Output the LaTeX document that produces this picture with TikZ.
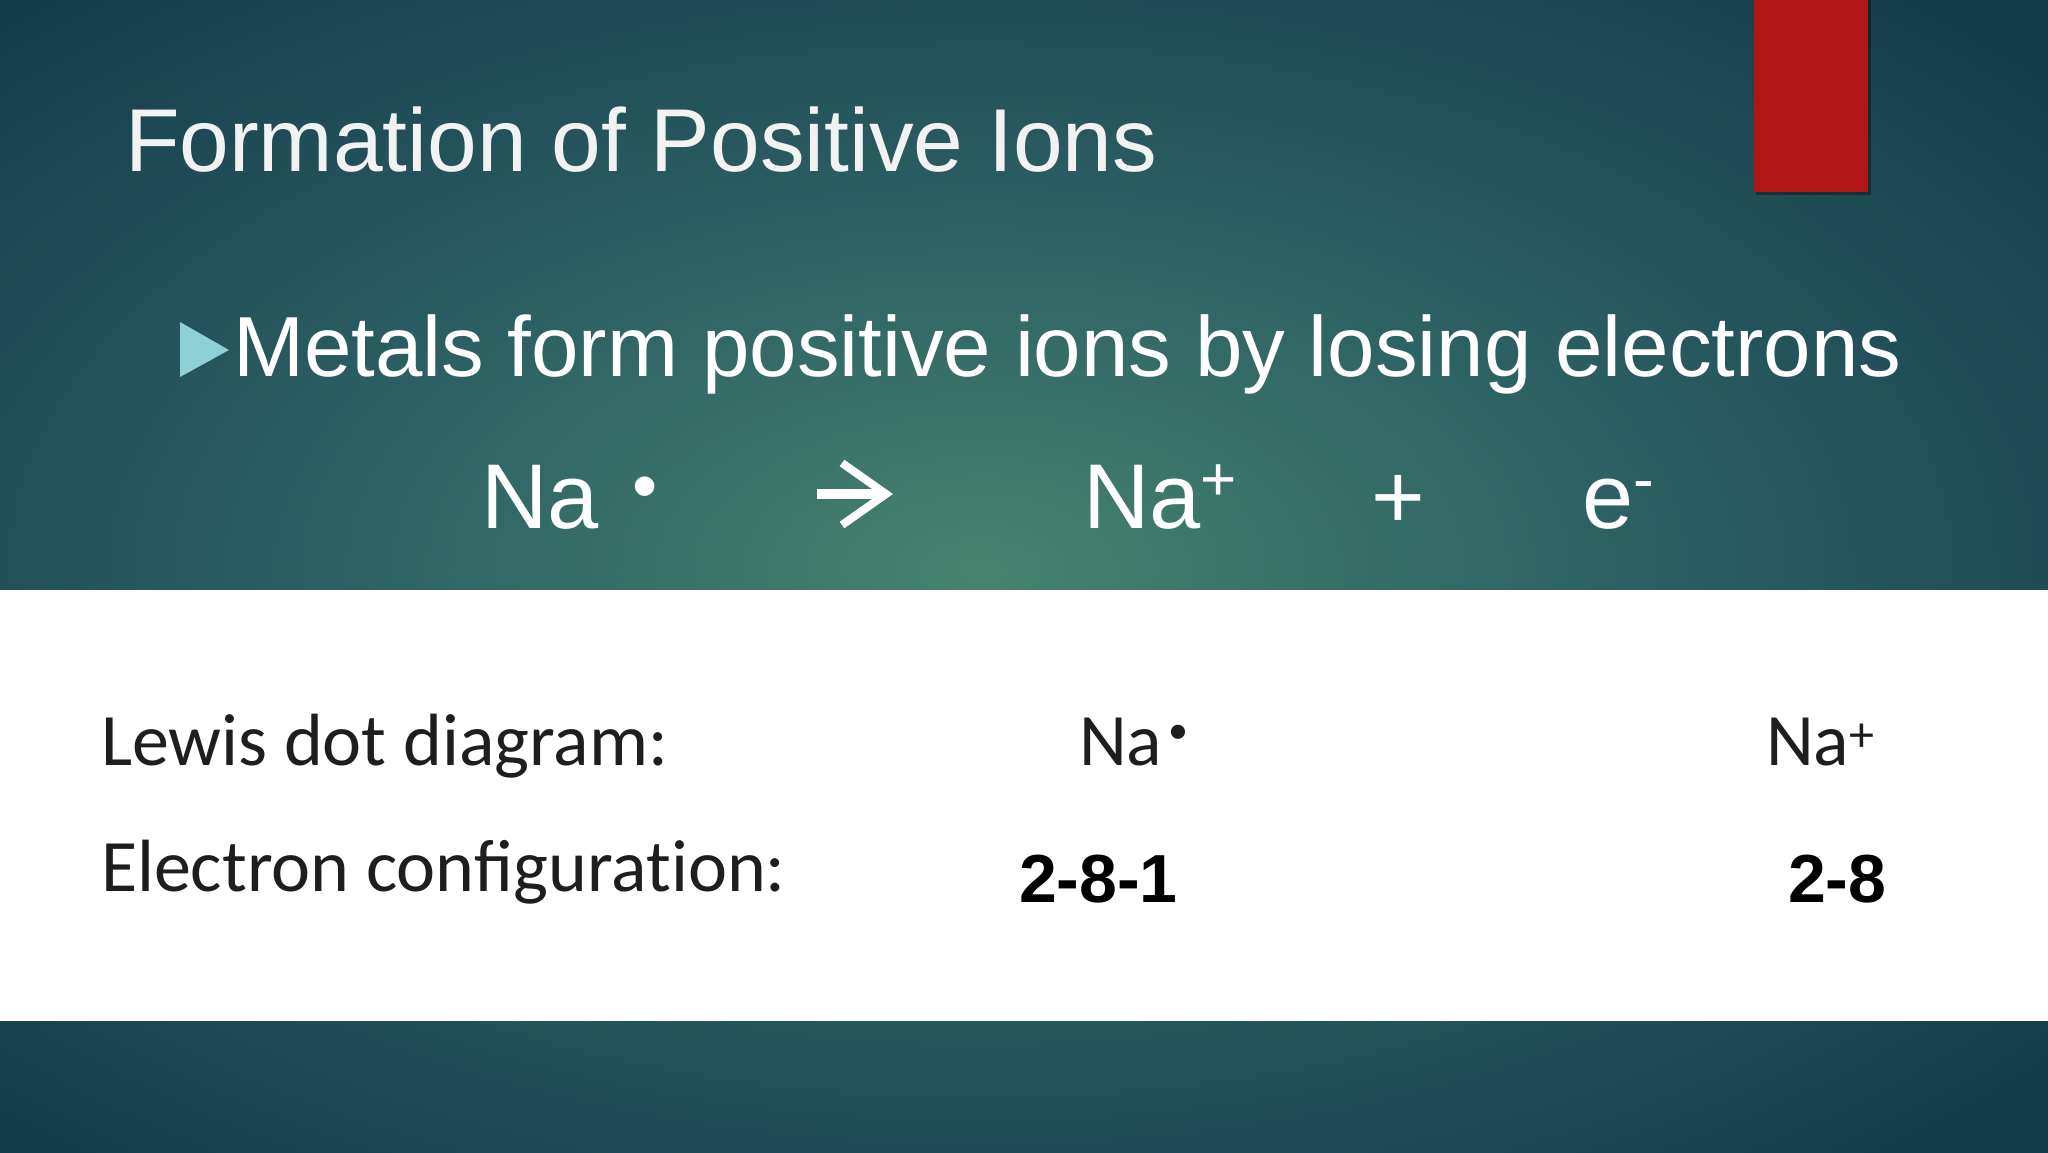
\documentclass[tikz,border=0pt]{standalone}
\usepackage{fontspec}
\setmainfont{Liberation Sans}
\newfontfamily\calfont[Ligatures=NoCommon]{Carlito}
\usepackage{tikz}
\definecolor{slideedge}{RGB}{21,60,75}
\definecolor{slidemid}{RGB}{43,95,98}
\definecolor{slideglow}{RGB}{70,131,111}
\definecolor{tabred}{RGB}{176,22,22}
\definecolor{tricyan}{RGB}{142,208,214}
\definecolor{titlewhite}{RGB}{242,242,242}
\definecolor{labelgray}{RGB}{30,30,30}
\pgfdeclareradialshading{glowshade}{\pgfpoint{0bp}{0bp}}{color(0bp)=(slideglow); color(12bp)=(slidemid); color(25bp)=(slideedge); color(50bp)=(slideedge)}
\newcommand{\ionsup}[1]{{\fontsize{62}{62}\selectfont\raisebox{28pt}{#1}}}
\newcommand{\lewsup}[1]{{\fontsize{50}{50}\selectfont\raisebox{14pt}{#1}}}

\begin{document}
\begin{tikzpicture}[line cap=round,line join=round,x=1pt,y=-1pt,
  every node/.style={inner sep=0pt,outer sep=0pt,anchor=base west},
  eqtext/.style={text=white,font=\fontsize{92}{110}\selectfont},
  labeltext/.style={text=labelgray,font=\calfont\fontsize{74}{89}\selectfont},
  cfgtext/.style={text=black,font=\fontsize{68}{82}\selectfont\bfseries},
  rxnbar/.style={white,line width=10pt,line cap=butt},
  rxnhead/.style={white,line width=8pt,line cap=butt,line join=miter}]
\useasboundingbox (0,0) rectangle (2048,1152);
\fill [slideedge] (-4,-4) rectangle (2052,1156);
\begin{scope}
\clip (-4,-4) rectangle (2052,1156);
\shade [shading=glowshade] (980,570) ellipse (1400 and 760);
\end{scope}
\fill [white] (-4,590) rectangle (2052,1021);
\fill [black,opacity=0.35] (1756,-4) rectangle (1871,195);
\fill [tabred] (1754,-4) rectangle (1868,192);
\fill [tricyan] (180,322) -- (229,350) -- (180,377) -- cycle;
\node [text=titlewhite,font=\fontsize{89.3}{107}\selectfont] (title) at (125,171) {Formation of Positive Ions};
\node [text=white,font=\fontsize{85.3}{103}\selectfont] (lead) at (233,376) {Metals form positive ions by losing electrons};
\node [eqtext] (na1) at (481,528) {Na};
\node [eqtext] (dot1) at (632,528) {\fontsize{72}{72}\selectfont\raisebox{18pt}{•}};
\coordinate (arrtail) at (817,494);
\coordinate (arrhead) at (886,494);
\draw [rxnbar] (arrtail) -- ([xshift=-2pt]arrhead);
\draw [rxnhead] (arrhead) ++(-44,-31) -- (arrhead) -- ++(-44,31);
\node [eqtext] (na2) at (1083,528) {Na\ionsup{+}};
\node [eqtext] (plus) at (1371,528) {+};
\node [eqtext] (elec) at (1582,528) {e\ionsup{-}};
\node [labeltext] (lewis) at (101,765) {Lewis dot diagram:};
\node [labeltext] (econf) at (101,891) {Electron con^^^^fb01guration:};
\node [labeltext] (na3) at (1079,765) {Na\hspace{6pt}{\fontsize{40}{40}\selectfont\raisebox{22pt}{•}}};
\node [labeltext] (na4) at (1766,765) {Na\lewsup{+}};
\node [cfgtext] (cfg1) at (1019,902) {2-8-1};
\node [cfgtext] (cfg2) at (1788,902) {2-8};
%\draw [red] (0,590) -- (2048,590);
\end{tikzpicture}
\end{document}
